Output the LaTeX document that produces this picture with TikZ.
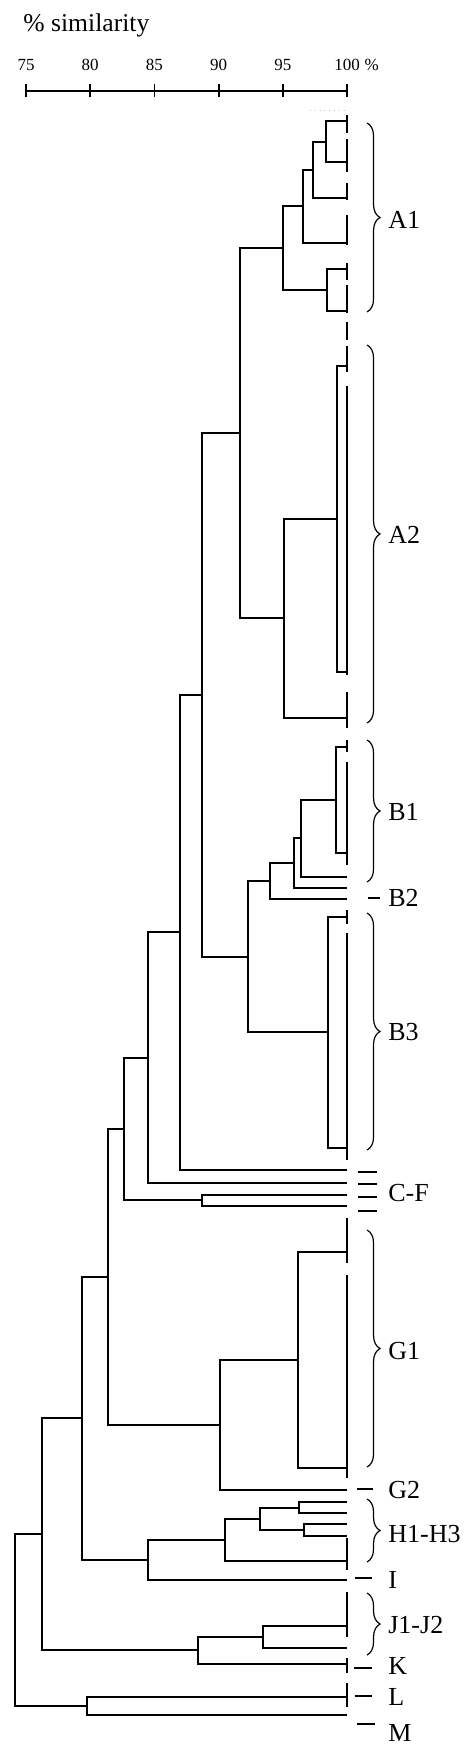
\documentclass[tikz,border=0pt]{standalone}
\usepackage{fontspec}
\setmainfont{Liberation Serif}
\usetikzlibrary{decorations.pathreplacing}

\begin{document}
\begin{tikzpicture}[
    x=6.42pt, y=-0.5pt,
    branch/.style={line width=1.1pt},
    axisline/.style={line width=0.9pt},
    axnum/.style={font=\fontsize{8.5}{10}\selectfont, anchor=base, inner sep=0pt},
    grp/.style={decorate, decoration={brace, amplitude=6.5pt}, line width=0.6pt},
    lbl/.style={anchor=west, inner sep=0pt, font=\fontsize{13}{15}\selectfont},
    stub/.style={line width=1.0pt},
]
    \useasboundingbox (72.975,0) rectangle (109.89,1748);

    % =====================================================================
    % SCALE (% similarity)
    % =====================================================================
    \node[anchor=base west, inner sep=0pt, font=\fontsize{12.8}{15}\selectfont] (title) at (74.77,32) {\% similarity};
    \draw[axisline] (75,91) -- (100,91)
        (75,84) -- (75,97) (80,84) -- (80,97) (85,84) -- (85,97)
        (90,84) -- (90,97) (95,84) -- (95,97) (100,84) -- (100,97);
    \node[axnum] (t75) at (75,71) {75};
    \node[axnum] (t80) at (80,71) {80};
    \node[axnum] (t85) at (85,71) {85};
    \node[axnum] (t90) at (90,71) {90};
    \node[axnum] (t95) at (95,71) {95};
    \node[axnum] (t100) at (100,71) {100};
    \node[axnum, anchor=base west] (pct) at ([xshift=2pt]t100.base east) {\%};
    \draw[gray!45, dotted, line width=0.4pt] (97.12,110) -- (99.92,110);

    % =====================================================================
    % LEAVES (at 100 %)
    % =====================================================================
    \coordinate (la1) at (100,121);  \coordinate (la2) at (100,162);
    \coordinate (la3) at (100,198);  \coordinate (la4) at (100,243);
    \coordinate (la5) at (100,269);  \coordinate (la6) at (100,311);
    \coordinate (la7) at (100,366);  \coordinate (la8) at (100,672);
    \coordinate (la9) at (100,718);
    \coordinate (lb1) at (100,747);  \coordinate (lb2) at (100,853);
    \coordinate (lb3) at (100,877);  \coordinate (lb4) at (100,888);
    \coordinate (lb5) at (100,899);
    \coordinate (lb6) at (100,917);  \coordinate (lb7) at (100,1148);
    \coordinate (lc) at (100,1170);  \coordinate (ld) at (100,1183);
    \coordinate (le) at (100,1195);  \coordinate (lf) at (100,1206);
    \coordinate (lg1) at (100,1252); \coordinate (lg2) at (100,1468);
    \coordinate (lg3) at (100,1490);
    \coordinate (lh1) at (100,1502); \coordinate (lh2) at (100,1513);
    \coordinate (lh3) at (100,1524); \coordinate (lh4) at (100,1536);
    \coordinate (lh5) at (100,1561);
    \coordinate (li) at (100,1580);
    \coordinate (lj1) at (100,1626); \coordinate (lj2) at (100,1648);
    \coordinate (lk) at (100,1664);
    \coordinate (ll) at (100,1697);  \coordinate (lm) at (100,1715);

    % identical isolates
    \draw[branch] (100,115) -- (100,133) (100,139) -- (100,172) (100,183) -- (100,200)
        (100,215) -- (100,245) (100,263) -- (100,280) (100,285) -- (100,313)
        (100,322) -- (100,340) (100,346) -- (100,372) (100,386) -- (100,675)
        (100,692) -- (100,728) (100,740) -- (100,752) (100,762) -- (100,865)
        (100,910) -- (100,924) (100,933) -- (100,1160) (100,1218) -- (100,1263)
        (100,1275) -- (100,1478) (100,1538) -- (100,1570) (100,1592) -- (100,1637)
        (100,1658) -- (100,1673) (100,1683) -- (100,1707);

    % =====================================================================
    % CLUSTERS A and B
    % =====================================================================
    \coordinate (ma1) at (98.36,142);    \draw[branch] (la1) -| (ma1) |- (la2);
    \coordinate (ma2) at (97.35,170);    \draw[branch] (ma1) -| (ma2) |- (la3);
    \coordinate (ma3) at (96.57,206);    \draw[branch] (ma2) -| (ma3) |- (la4);
    \coordinate (ma4) at (98.44,290);    \draw[branch] (la5) -| (ma4) |- (la6);
    \coordinate (mA1) at (95.02,248);    \draw[branch] (ma3) -| (mA1) |- (ma4);
    \coordinate (ma5) at (99.22,519);    \draw[branch] (la7) -| (ma5) |- (la8);
    \coordinate (mA2) at (95.09,618);    \draw[branch] (ma5) -| (mA2) |- (la9);
    \coordinate (mA) at (91.67,433);     \draw[branch] (mA1) -| (mA) |- (mA2);

    \coordinate (mb1) at (99.14,800);    \draw[branch] (lb1) -| (mb1) |- (lb2);
    \coordinate (mb2) at (96.42,838);    \draw[branch] (mb1) -| (mb2) |- (lb3);
    \coordinate (mb3) at (95.87,863);    \draw[branch] (mb2) -| (mb3) |- (lb4);
    \coordinate (mB12) at (94.00,881);   \draw[branch] (mb3) -| (mB12) |- (lb5);
    \coordinate (mB3) at (98.52,1032);   \draw[branch] (lb6) -| (mB3) |- (lb7);
    \coordinate (mB) at (92.29,957);     \draw[branch] (mB12) -| (mB) |- (mB3);
    \coordinate (mAB) at (88.71,695);    \draw[branch] (mA) -| (mAB) |- (mB);

    % =====================================================================
    % CLUSTERS C-F, G
    % =====================================================================
    \coordinate (mABC) at (86.99,932);   \draw[branch] (mAB) -| (mABC) |- (lc);
    \coordinate (mABD) at (84.50,1058);  \draw[branch] (mABC) -| (mABD) |- (ld);
    \coordinate (mEF) at (88.71,1200);   \draw[branch] (le) -| (mEF) |- (lf);
    \coordinate (mAF) at (82.63,1129);   \draw[branch] (mABD) -| (mAF) |- (mEF);
    \coordinate (mG1) at (96.18,1360);   \draw[branch] (lg1) -| (mG1) |- (lg2);
    \coordinate (mG) at (90.11,1425);    \draw[branch] (mG1) -| (mG) |- (lg3);
    \coordinate (mAG) at (81.39,1277);   \draw[branch] (mAF) -| (mAG) |- (mG);

    % =====================================================================
    % CLUSTERS H-M
    % =====================================================================
    \coordinate (mh1) at (96.26,1508);   \draw[branch] (lh1) -| (mh1) |- (lh2);
    \coordinate (mh2) at (96.65,1530);   \draw[branch] (lh3) -| (mh2) |- (lh4);
    \coordinate (mh3) at (93.22,1519);   \draw[branch] (mh1) -| (mh3) |- (mh2);
    \coordinate (mH) at (90.50,1540);    \draw[branch] (mh3) -| (mH) |- (lh5);
    \coordinate (mHI) at (84.50,1560);   \draw[branch] (mH) -| (mHI) |- (li);
    \coordinate (mAI) at (79.36,1418);   \draw[branch] (mAG) -| (mAI) |- (mHI);
    \coordinate (mJ) at (93.46,1637);    \draw[branch] (lj1) -| (mJ) |- (lj2);
    \coordinate (mJK) at (88.40,1650);   \draw[branch] (mJ) -| (mJK) |- (lk);
    \coordinate (mAK) at (76.25,1534);   \draw[branch] (mAI) -| (mAK) |- (mJK);
    \coordinate (mLM) at (79.75,1706);   \draw[branch] (ll) -| (mLM) |- (lm);
    \coordinate (root) at (74.14,1620);  \draw[branch] (mAK) -| (root) |- (mLM);

    % =====================================================================
    % GROUP LABELS
    % =====================================================================
    \draw[grp] (101.56,123) -- (101.56,312);
    \draw[grp] (101.56,345) -- (101.56,723);
    \draw[grp] (101.56,740) -- (101.56,882);
    \draw[grp] (101.56,913) -- (101.56,1150);
    \draw[grp] (101.56,1230) -- (101.56,1467);
    \draw[grp] (101.56,1499) -- (101.56,1562);
    \draw[grp] (101.56,1593) -- (101.56,1655);

    \draw[stub] (101.64,898) -- (102.57,898);
    \draw[stub] (100.86,1172) -- (102.34,1172) (100.86,1184) -- (102.34,1184)
        (100.86,1197) -- (102.34,1197) (100.86,1211) -- (102.34,1211);
    \draw[stub] (100.78,1489) -- (102.03,1489);
    \draw[stub] (100.62,1578) -- (101.95,1578);
    \draw[stub] (100.55,1668) -- (101.95,1668);
    \draw[stub] (100.62,1696) -- (101.95,1696);
    \draw[stub] (100.78,1724) -- (102.18,1724);

    \node[lbl] (gA1) at (103.19,220) {A1};
    \node[lbl] (gA2) at (103.19,535) {A2};
    \node[lbl] (gB1) at (103.19,812) {B1};
    \node[lbl] (gB2) at (103.19,898) {B2};
    \node[lbl] (gB3) at (103.19,1032) {B3};
    \node[lbl] (gCF) at (103.19,1193) {C-F};
    \node[lbl] (gG1) at (103.19,1351) {G1};
    \node[lbl] (gG2) at (103.19,1490) {G2};
    \node[lbl] (gH) at (103.19,1534) {H1-H3};
    \node[lbl] (gI) at (103.19,1580) {I};
    \node[lbl] (gJ) at (103.19,1625) {J1-J2};
    \node[lbl] (gK) at (103.19,1666) {K};
    \node[lbl] (gL) at (103.19,1697) {L};
    \node[lbl] (gM) at (103.19,1733) {M};

\end{tikzpicture}
\end{document}
